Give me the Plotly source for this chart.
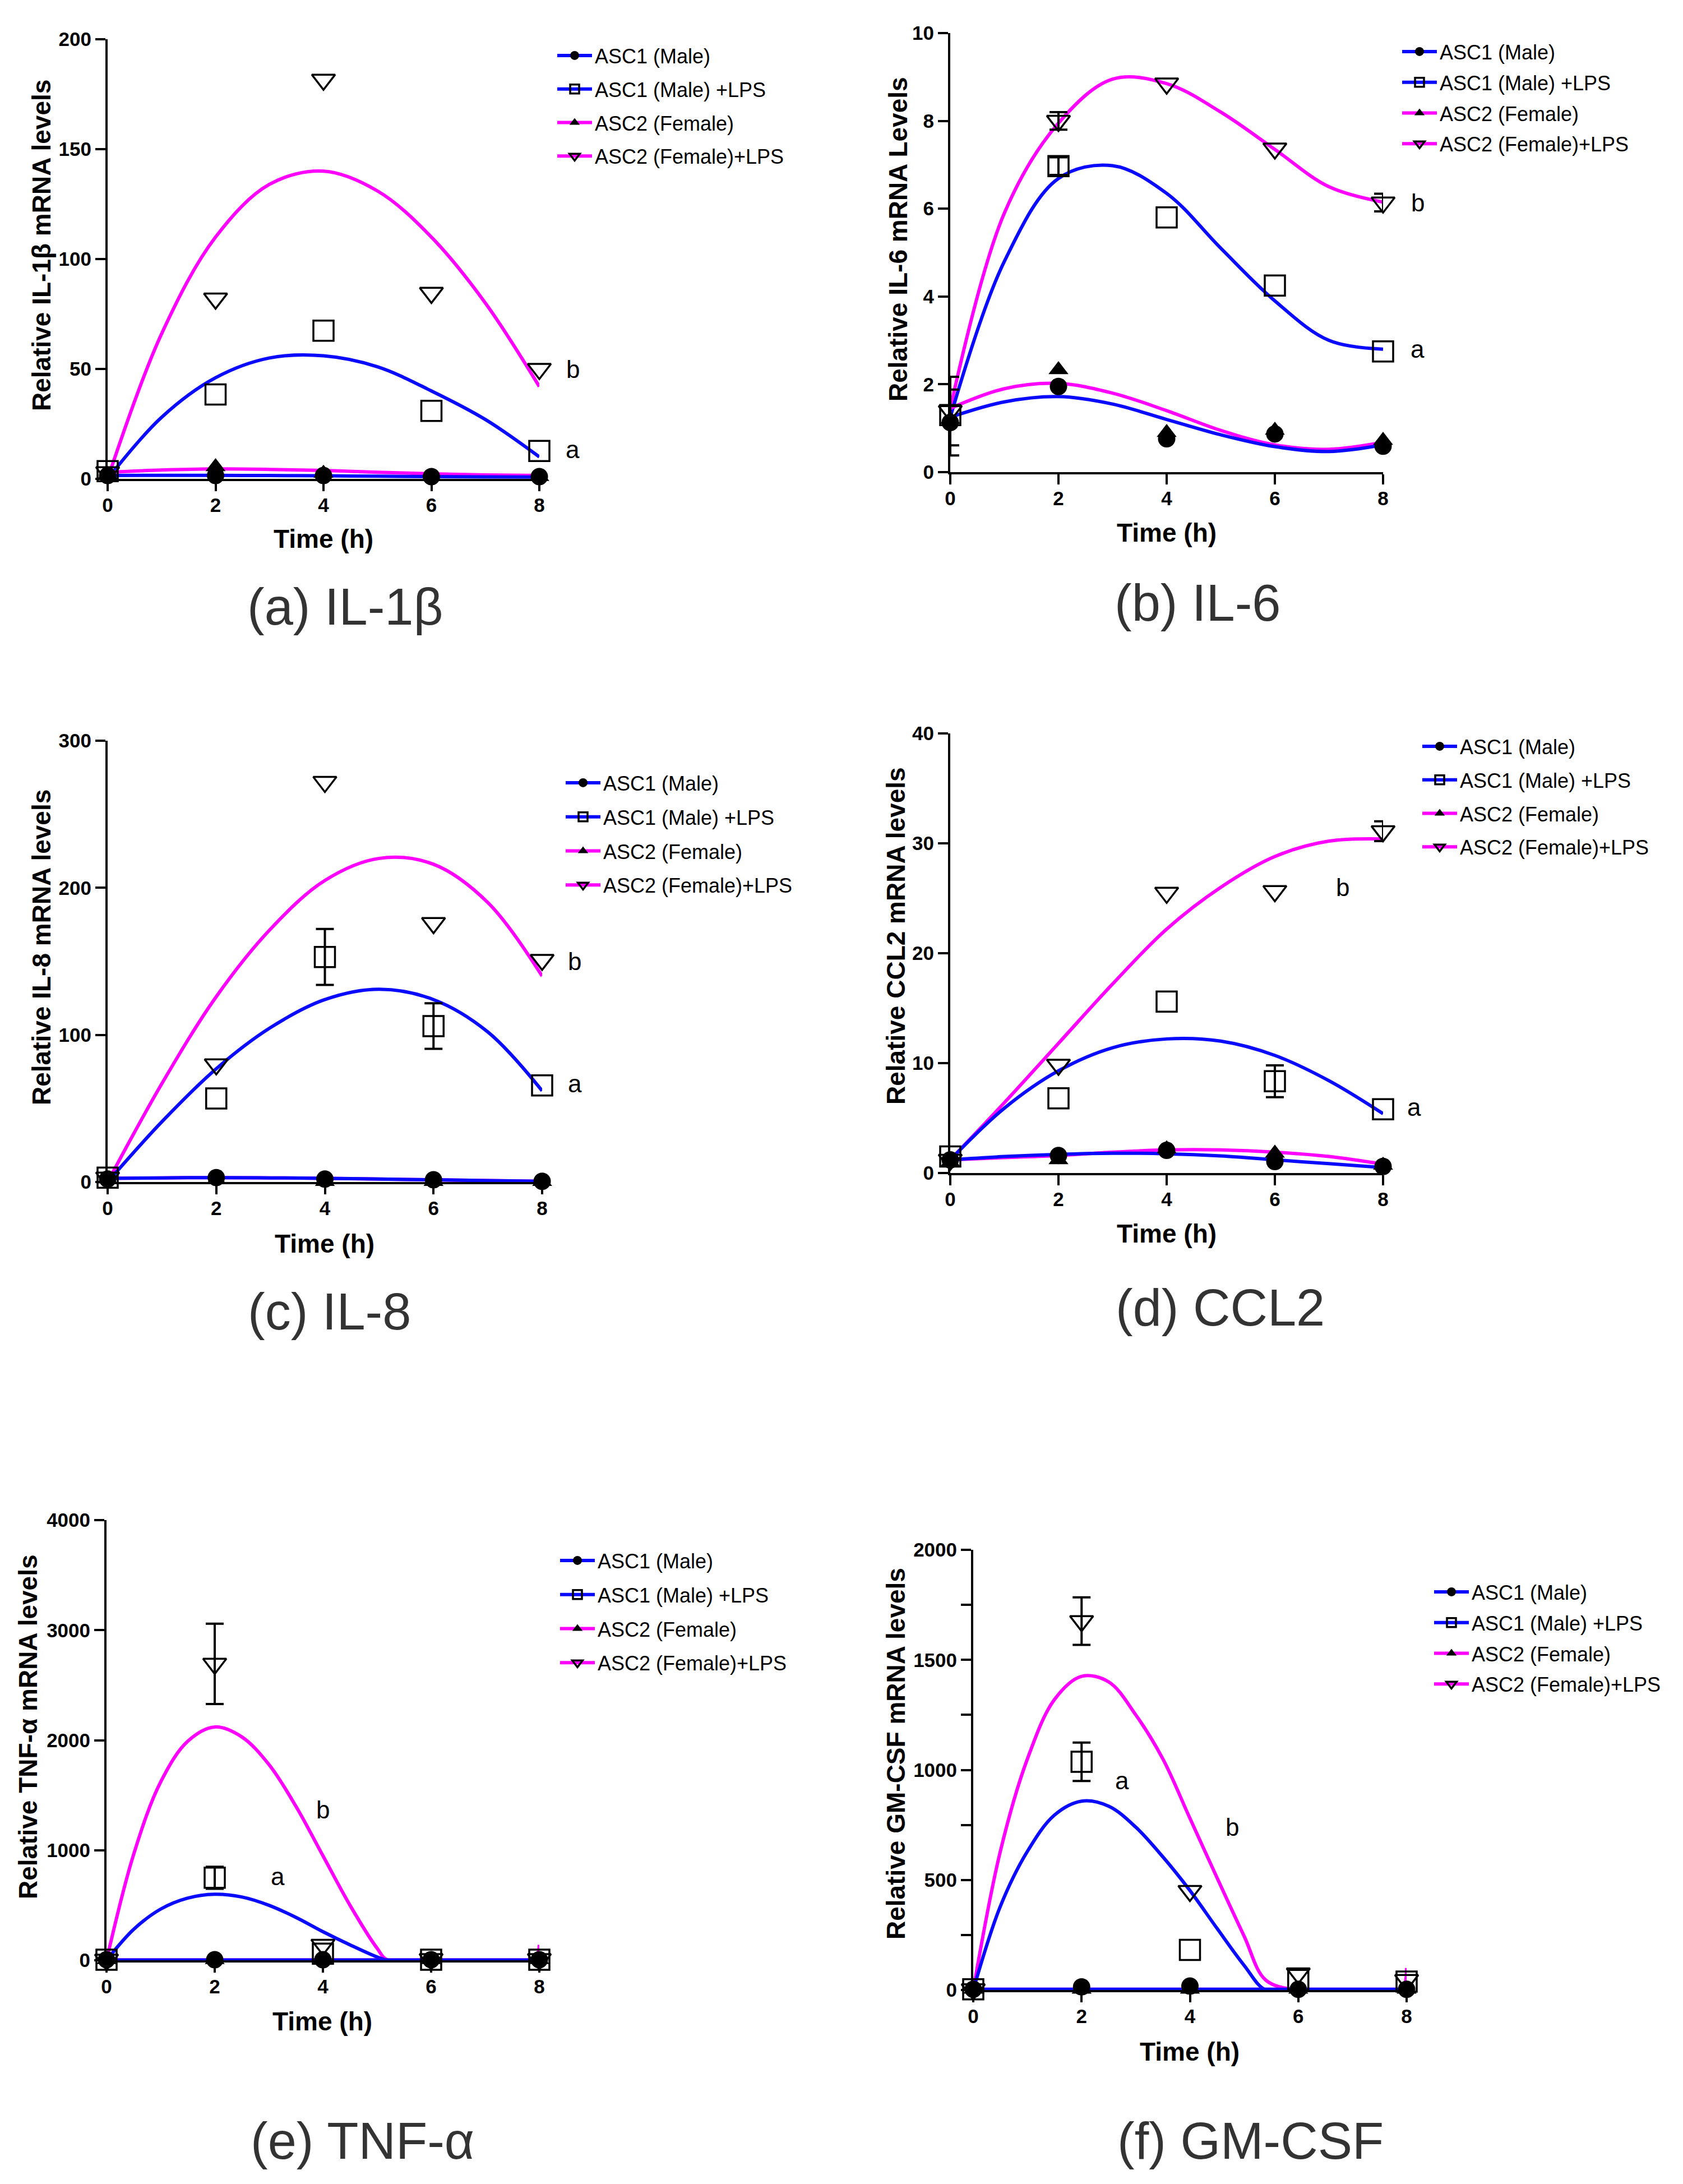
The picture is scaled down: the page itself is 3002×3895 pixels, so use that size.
import plotly.graph_objects as go

W, H = 3002, 3895

# ---------------- data ----------------
T = [0, 2, 4, 6, 8]
GRID = [0, 1, 2, 3, 4, 5, 6, 7, 8]
GRID_E = [0, 0.5, 1, 1.5, 2, 2.5, 3, 3.5, 4, 4.5, 5, 5.2, 6, 7, 7.9, 8]
GRID_F = [0, 0.5, 1, 1.5, 2, 2.5, 3, 3.5, 4, 4.5, 5, 5.4, 6, 7, 7.9, 8]

SERIES = ["ASC1 (Male)", "ASC1 (Male) +LPS", "ASC2 (Female)", "ASC2 (Female)+LPS"]

# (a) IL-1beta
il1b_m = [1.5, 1.5, 1.5, 1.0, 1.0]
il1b_mL = [3.5, 38.4, 67.4, 30.9, 12.7]
il1b_f = [2.0, 5.5, 2.5, 1.0, 1.0]
il1b_fL = [3.0, 82, 181.6, 84.6, 50]
il1b_err_m = [0, 0, 0, 0, 0]
il1b_err_mL = [0, 0, 0, 0, 0]
il1b_err_f = [0, 0, 0, 0, 0]
il1b_err_fL = [0, 0, 0, 0, 0]
il1b_fit_m = [1.5, 1.6, 1.6, 1.5, 1.4, 1.2, 1.0, 0.9, 0.8]
il1b_fit_mL = [0, 28, 46, 55, 56, 51, 40, 27, 10]
il1b_fit_f = [3.0, 4.0, 4.5, 4.3, 3.8, 3.0, 2.3, 1.8, 1.5]
il1b_fit_fL = [0, 66, 110, 134, 140, 131, 110, 80, 42]

# (b) IL-6
il6_m = [1.13, 1.95, 0.76, 0.87, 0.59]
il6_mL = [1.3, 6.97, 5.8, 4.25, 2.75]
il6_f = [1.2, 2.33, 0.9, 0.95, 0.72]
il6_fL = [1.39, 8.0, 8.85, 7.37, 6.14]
il6_err_m = [0.75, 0, 0, 0, 0]
il6_err_mL = [0, 0.2, 0, 0, 0]
il6_err_f = [0, 0, 0, 0, 0]
il6_err_fL = [0.78, 0.2, 0, 0, 0.2]
il6_fit_m = [1.25, 1.6, 1.72, 1.55, 1.2, 0.85, 0.58, 0.47, 0.62]
il6_fit_mL = [1.25, 4.8, 6.69, 6.98, 6.35, 5.1, 3.9, 3.0, 2.8]
il6_fit_f = [1.45, 1.9, 2.02, 1.8, 1.4, 0.95, 0.62, 0.52, 0.68]
il6_fit_fL = [1.45, 5.9, 7.95, 8.95, 8.85, 8.2, 7.35, 6.5, 6.15]

# (c) IL-8
il8_m = [2, 3, 2, 1.5, 0.5]
il8_mL = [3, 56.8, 153, 106, 65.7]
il8_f = [2, 1.5, 0.3, 0.3, 0.3]
il8_fL = [3, 80, 272, 176, 151]
il8_err_m = [0, 0, 0, 0, 0]
il8_err_mL = [0, 0, 19, 15.5, 0]
il8_err_f = [0, 0, 0, 0, 0]
il8_err_fL = [0, 0, 0, 0, 0]
il8_fit_m = [2.5, 2.8, 3.0, 2.8, 2.5, 2.0, 1.5, 1.0, 0.5]
il8_fit_mL = [0, 41, 77, 105, 124, 131, 124, 102, 62]
il8_fit_f = [2.5, 2.8, 3.0, 2.8, 2.5, 2.0, 1.5, 1.0, 0.5]
il8_fit_fL = [0, 67, 126, 172, 205, 220, 216, 190, 140]

# (d) CCL2
ccl2_m = [1.2, 1.6, 2.06, 1.05, 0.6]
ccl2_mL = [1.5, 6.8, 15.6, 8.35, 5.8]
ccl2_f = [1.0, 1.2, 2.2, 1.8, 0.7]
ccl2_fL = [1.2, 9.85, 25.5, 25.65, 31.1]
ccl2_err_m = [0, 0, 0, 0, 0]
ccl2_err_mL = [0, 0, 0, 1.45, 0]
ccl2_err_f = [0, 0, 0, 0, 0]
ccl2_err_fL = [0, 0, 0, 0, 0.9]
ccl2_fit_m = [1.2, 1.5, 1.7, 1.8, 1.75, 1.55, 1.2, 0.85, 0.5]
ccl2_fit_mL = [1.2, 5.9, 9.3, 11.4, 12.2, 12.0, 10.7, 8.4, 5.4]
ccl2_fit_f = [1.2, 1.4, 1.6, 1.9, 2.1, 2.1, 1.9, 1.5, 0.8]
ccl2_fit_fL = [1.2, 6.4, 11.8, 17.2, 22.2, 26.0, 28.8, 30.2, 30.4]

# (e) TNF-alpha
tnf_m = [5, 5, 5, 5, 5]
tnf_mL = [5, 750, 60, 5, 5]
tnf_f = [5, 5, 5, 5, 5]
tnf_fL = [5, 2694, 140, 10, 10]
tnf_err_m = [0, 0, 0, 0, 0]
tnf_err_mL = [0, 100, 0, 0, 0]
tnf_err_f = [0, 0, 0, 0, 0]
tnf_err_fL = [0, 365, 0, 0, 0]
tnf_fit_m = [3, 3, 3, 3, 3]
tnf_fit_f = [3, 3, 3, 3, 3]
tnf_fit_mL = [0, 280, 465, 565, 600, 575, 500, 390, 260, 140, 30, 0, 0, 0, 0, 0]
tnf_fit_fL = [0, 960, 1620, 1990, 2120, 2030, 1780, 1400, 950, 500, 110, 0, 0, 0, 0, 140]

# (f) GM-CSF
gm_m = [3, 14, 18, 3, 3]
gm_mL = [3, 1037, 182, 45, 38]
gm_f = [3, 3, 3, 3, 3]
gm_fL = [3, 1676, 450, 75, 45]
gm_err_m = [0, 0, 0, 0, 0]
gm_err_mL = [0, 87, 0, 0, 0]
gm_err_f = [0, 0, 0, 0, 0]
gm_err_fL = [0, 108, 0, 0, 0]
gm_fit_m = [3, 3, 3, 3, 3]
gm_fit_f = [3, 3, 3, 3, 3]
gm_fit_mL = [0, 380, 630, 795, 858, 835, 740, 605, 452, 280, 112, 0, 0, 0, 0, 0]
gm_fit_fL = [0, 630, 1050, 1320, 1425, 1400, 1250, 1050, 780, 510, 245, 45, 0, 0, 0, 100]

# ---------------- panel definitions ----------------
panels = [
    dict(pts=[il1b_m, il1b_mL, il1b_f, il1b_fL],
         err=[il1b_err_m, il1b_err_mL, il1b_err_f, il1b_err_fL],
         fits=[(GRID, il1b_fit_m), (GRID, il1b_fit_mL), (GRID, il1b_fit_f), (GRID, il1b_fit_fL)],
         ymax=200, dtick=50, minor=None,
         ytitle="Relative IL-1β mRNA levels", caption="(a) IL-1β",
         letters=[("b", 8.62, 50), ("a", 8.62, 13.5)]),
    dict(pts=[il6_m, il6_mL, il6_f, il6_fL],
         err=[il6_err_m, il6_err_mL, il6_err_f, il6_err_fL],
         fits=[(GRID, il6_fit_m), (GRID, il6_fit_mL), (GRID, il6_fit_f), (GRID, il6_fit_fL)],
         ymax=10, dtick=2, minor=None,
         ytitle="Relative IL-6 mRNA Levels", caption="(b) IL-6",
         letters=[("b", 8.64, 6.14), ("a", 8.64, 2.8)]),
    dict(pts=[il8_m, il8_mL, il8_f, il8_fL],
         err=[il8_err_m, il8_err_mL, il8_err_f, il8_err_fL],
         fits=[(GRID, il8_fit_m), (GRID, il8_fit_mL), (GRID, il8_fit_f), (GRID, il8_fit_fL)],
         ymax=300, dtick=100, minor=None,
         ytitle="Relative IL-8 mRNA levels", caption="(c) IL-8",
         letters=[("b", 8.6, 150), ("a", 8.6, 67)]),
    dict(pts=[ccl2_m, ccl2_mL, ccl2_f, ccl2_fL],
         err=[ccl2_err_m, ccl2_err_mL, ccl2_err_f, ccl2_err_fL],
         fits=[(GRID, ccl2_fit_m), (GRID, ccl2_fit_mL), (GRID, ccl2_fit_f), (GRID, ccl2_fit_fL)],
         ymax=40, dtick=10, minor=None,
         ytitle="Relative CCL2 mRNA levels", caption="(d) CCL2",
         letters=[("b", 7.25, 26), ("a", 8.57, 6.0)]),
    dict(pts=[tnf_m, tnf_mL, tnf_f, tnf_fL],
         err=[tnf_err_m, tnf_err_mL, tnf_err_f, tnf_err_fL],
         fits=[(T, tnf_fit_m), (GRID_E, tnf_fit_mL), (T, tnf_fit_f), (GRID_E, tnf_fit_fL)],
         ymax=4000, dtick=1000, minor=None,
         ytitle="Relative TNF-α mRNA levels", caption="(e) TNF-α",
         letters=[("b", 4.0, 1370), ("a", 3.17, 762)]),
    dict(pts=[gm_m, gm_mL, gm_f, gm_fL],
         err=[gm_err_m, gm_err_mL, gm_err_f, gm_err_fL],
         fits=[(T, gm_fit_m), (GRID_F, gm_fit_mL), (T, gm_fit_f), (GRID_F, gm_fit_fL)],
         ymax=2000, dtick=500, minor=250,
         ytitle="Relative GM-CSF mRNA levels", caption="(f) GM-CSF",
         letters=[("a", 2.75, 952), ("b", 4.78, 740)]),
]

# pixel layout: (x0, x1, ytop, ybottom), legend (marker x, first row y, row gap),
# y-title (x, y), x-title (x, y), caption (x, y)
geom = [
    dict(box=(189, 959, 67, 851), leg=(1006, 97, 10), yt=(71, 435), xt=(574, 958), cap=(612, 1079)),
    dict(box=(1692, 2464, 56, 839), leg=(2513, 90, 5), yt=(1599, 424), xt=(2078, 947), cap=(2133, 1072)),
    dict(box=(189, 964, 1318, 2105), leg=(1021, 1394, 11), yt=(71, 1687), xt=(576, 2215), cap=(584, 2336)),
    dict(box=(1692, 2464, 1305, 2089), leg=(2549, 1329, 10), yt=(1595, 1666), xt=(2078, 2197), cap=(2173, 2329)),
    dict(box=(187, 959, 2708, 3493), leg=(1011, 2781, 11), yt=(47, 3077), xt=(572, 3602), cap=(643, 3815)),
    dict(box=(1733, 2506, 2761, 3546), leg=(2570, 2837, 5), yt=(1595, 3125), xt=(2119, 3656), cap=(2227, 3815)),
]

BLUE = "#0A0AFF"
MAGENTA = "#FF00FF"
line_colors = [BLUE, BLUE, MAGENTA, MAGENTA]
symbols = ["circle", "square-open", "triangle-up", "triangle-down-open"]
msizes = [31, 36, 31, 36]
FONT = "Liberation Sans, Arial, Helvetica, sans-serif"
OFF = 5  # page body margin compensation


def px(x):
    return (x - OFF) / W


def py(y):
    return 1 - (y - OFF) / H


fig = go.Figure()
annotations = []
layout = dict(width=W, height=H, margin=dict(l=0, r=0, t=0, b=0, autoexpand=False),
              paper_bgcolor="white", plot_bgcolor="white", showlegend=True)

draw_order = [3, 1, 2, 0]  # LPS curves below, flat curves on top

for i, (p, g) in enumerate(zip(panels, geom)):
    n = i + 1
    xa = "x" if n == 1 else f"x{n}"
    ya = "y" if n == 1 else f"y{n}"
    xkey = "xaxis" if n == 1 else f"xaxis{n}"
    ykey = "yaxis" if n == 1 else f"yaxis{n}"
    lkey = "legend" if n == 1 else f"legend{n}"
    x0, x1, yt0, yb0 = g["box"]

    axis_common = dict(showline=True, linewidth=4, linecolor="black", mirror=False,
                       ticks="outside", ticklen=18, tickwidth=4, tickcolor="black",
                       showgrid=False, zeroline=False, fixedrange=True, automargin=False,
                       tickfont=dict(family=FONT, size=35, color="black", weight="bold"))
    layout[xkey] = dict(axis_common, domain=[px(x0), px(x1)], anchor=ya,
                        range=[0, 8], tickvals=T, ticktext=[str(t) for t in T],
                        ticklabelstandoff=-5)
    yax = dict(axis_common, domain=[py(yb0), py(yt0)], anchor=xa,
               range=[0, p["ymax"]], tick0=0, dtick=p["dtick"])
    if p["minor"]:
        yax["minor"] = dict(dtick=p["minor"], ticks="outside", ticklen=18,
                            tickwidth=4, tickcolor="black", showgrid=False)
    layout[ykey] = yax

    # fitted curves
    for j in draw_order:
        cx, cy = p["fits"][j]
        fig.add_trace(go.Scatter(x=cx, y=cy, mode="lines", xaxis=xa, yaxis=ya,
                                 line=dict(color=line_colors[j], width=6, shape="spline", smoothing=1.0),
                                 showlegend=False, hoverinfo="skip"))

    # error bars (only where visible)
    for j in range(4):
        ex = [t for t, e in zip(T, p["err"][j]) if e > 0]
        ey = [v for v, e in zip(p["pts"][j], p["err"][j]) if e > 0]
        ee = [e for e in p["err"][j] if e > 0]
        if ex:
            fig.add_trace(go.Scatter(x=ex, y=ey, mode="markers", xaxis=xa, yaxis=ya,
                                     marker=dict(size=1, opacity=0),
                                     error_y=dict(type="data", array=ee, color="black",
                                                  thickness=4, width=16),
                                     showlegend=False, hoverinfo="skip", cliponaxis=False))

    # data points (isolated points -> no connecting line, but legend shows line+marker)
    for j in range(4):
        xs, ys = [], []
        for t, v in zip(T, p["pts"][j]):
            xs += [t, None]
            ys += [v, None]
        mk = dict(symbol=symbols[j], size=msizes[j], color="black")
        if "open" in symbols[j]:
            mk["line"] = dict(width=3.5, color="black")
        fig.add_trace(go.Scatter(x=xs, y=ys, mode="lines+markers", xaxis=xa, yaxis=ya,
                                 connectgaps=False, name=SERIES[j],
                                 line=dict(color=line_colors[j], width=6),
                                 marker=mk, cliponaxis=False,
                                 legend=lkey, legendgroup=f"p{n}s{j}",
                                 showlegend=True, hoverinfo="skip"))

    lx, ly, gap = g["leg"]
    layout[lkey] = dict(x=px(lx - 20), y=py(ly - 31), xanchor="left", yanchor="top",
                        bgcolor="rgba(0,0,0,0)", borderwidth=0, itemwidth=62,
                        tracegroupgap=gap, traceorder="grouped",
                        font=dict(family=FONT, size=36, color="black"))

    # titles & captions
    tx, ty = g["yt"]
    annotations.append(dict(x=px(tx), y=py(ty), xref="paper", yref="paper",
                            text=p["ytitle"], textangle=-90, showarrow=False,
                            xanchor="center", yanchor="middle",
                            font=dict(family=FONT, size=46, color="black", weight="bold")))
    tx, ty = g["xt"]
    annotations.append(dict(x=px(tx), y=py(ty), xref="paper", yref="paper",
                            text="Time (h)", showarrow=False,
                            xanchor="center", yanchor="middle",
                            font=dict(family=FONT, size=46, color="black", weight="bold")))
    tx, ty = g["cap"]
    annotations.append(dict(x=px(tx), y=py(ty), xref="paper", yref="paper",
                            text=p["caption"], showarrow=False,
                            xanchor="center", yanchor="middle",
                            font=dict(family=FONT, size=92, color="#333333")))
    for txt, lxv, lyv in p["letters"]:
        annotations.append(dict(x=lxv / 8.0, y=lyv / p["ymax"],
                                xref=f"{xa} domain", yref=f"{ya} domain",
                                text=txt, showarrow=False,
                                xanchor="center", yanchor="middle",
                                font=dict(family=FONT, size=44, color="black")))

layout["annotations"] = annotations
fig.update_layout(**layout)
fig.write_html("out.html")
